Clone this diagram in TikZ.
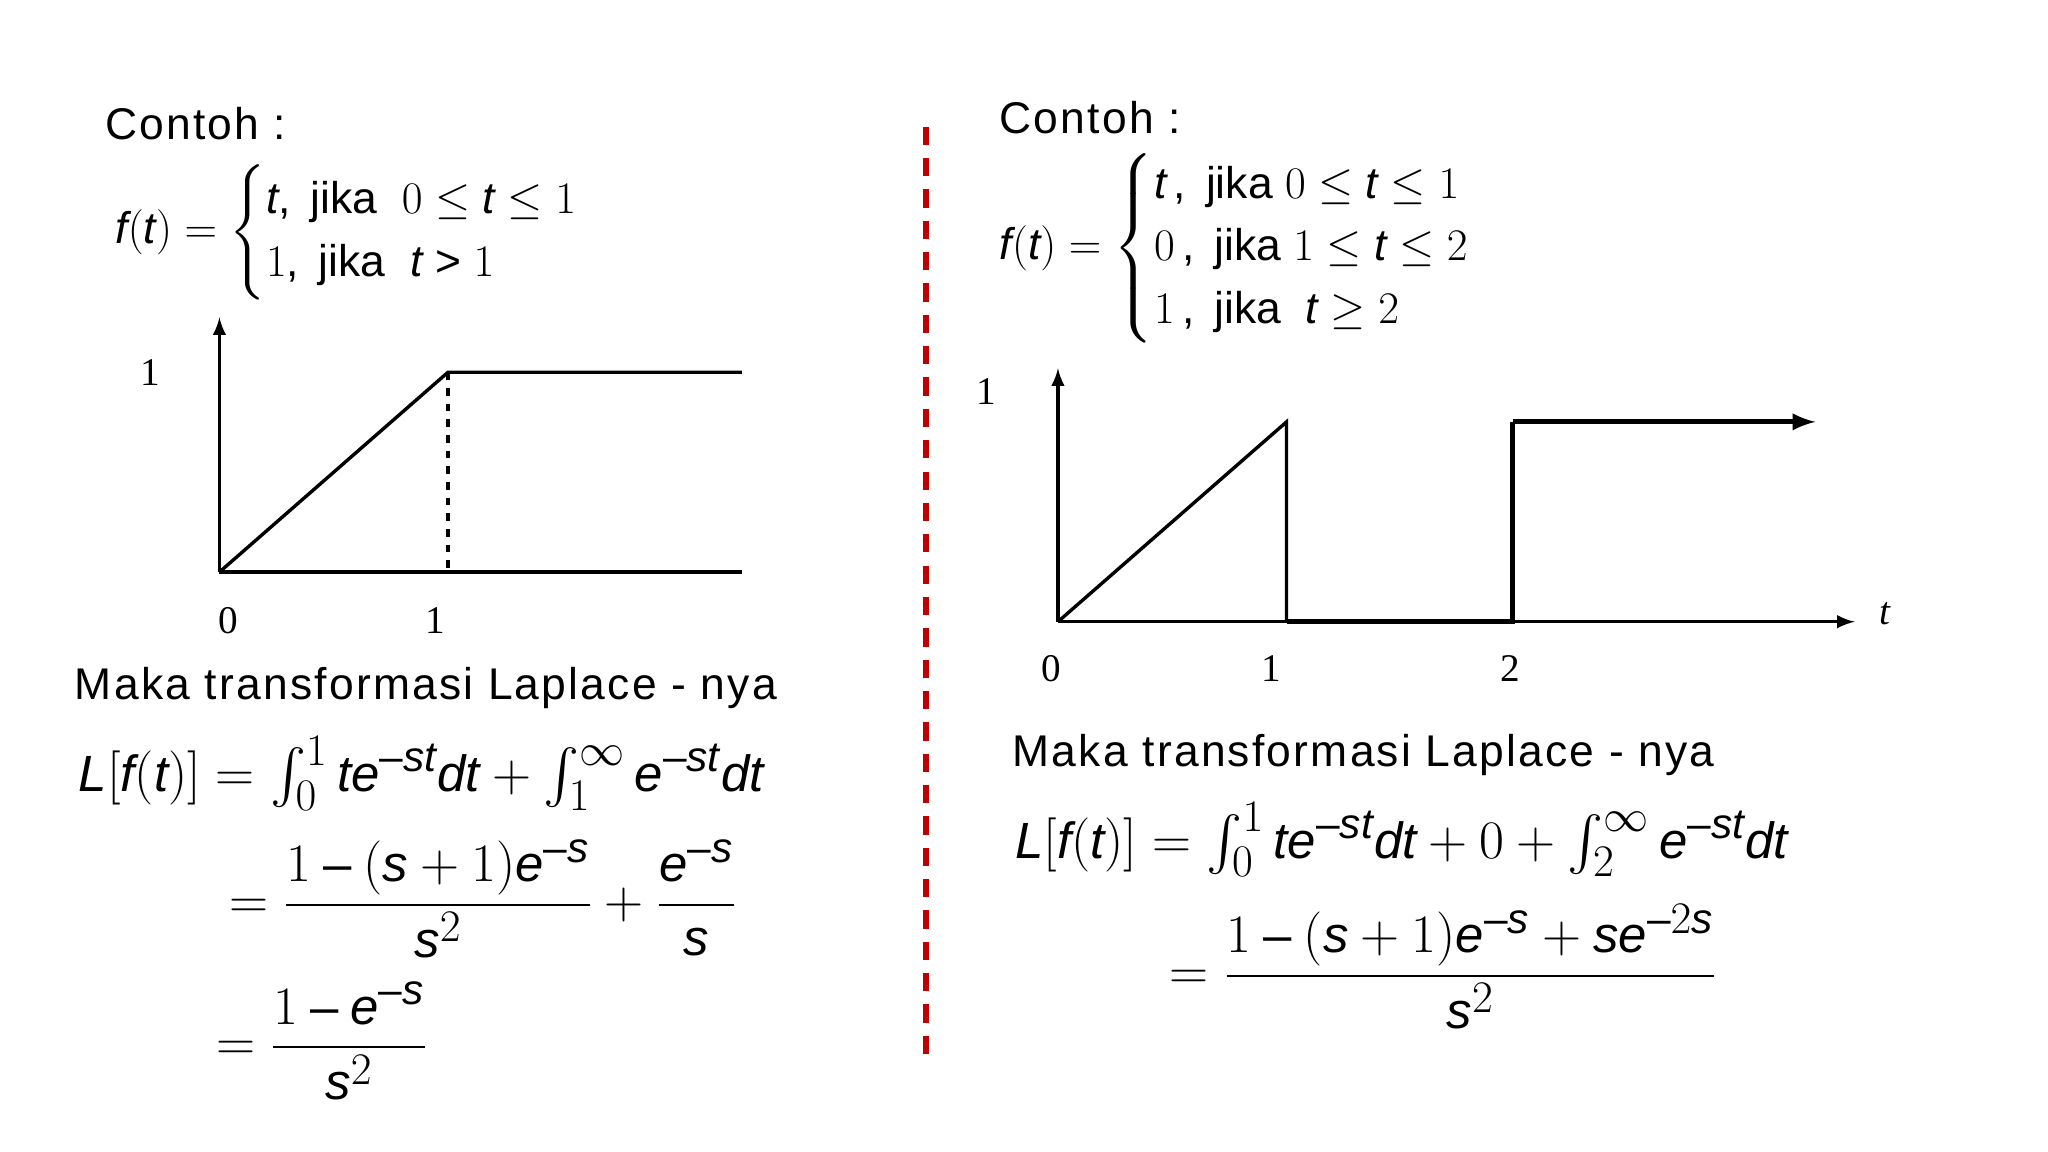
\documentclass[tikz,border=0pt]{standalone}
\usepackage{amsmath}
\usepackage{fontspec}
\setmainfont{Liberation Sans}
\usepackage[italic]{mathastext}
\newfontfamily\spaced[LetterSpace=5]{Liberation Sans}
\newfontfamily\serif{Liberation Serif}
\begin{document}
\begin{tikzpicture}[x=0.5pt,y=-0.5pt,
  txt/.style={anchor=west,inner sep=0pt,font=\fontsize{17}{20}\spaced},
  cs/.style={anchor=west,inner sep=0pt,font=\fontsize{17}{20}\selectfont},
  eq/.style={anchor=west,inner sep=0pt,font=\fontsize{19.5}{24}\selectfont},
  lab/.style={inner sep=0pt,font=\fontsize{15}{16}\serif},
  ax/.style={line width=1.3pt},
  fn/.style={line width=1.3pt},
  thick fn/.style={line width=2pt}]
\useasboundingbox (0,0) rectangle (1568,882);
\fill[white] (0,0) rectangle (1568,882);
% left
\node[txt] (c1) at (80,95) {Contoh :};
\node[cs] (f1) at (88,178) {$f(t)=\begin{cases} t,\ \text{jika}\ \ 0\le t\le 1\\ 1,\ \text{jika}\ \ t>1\end{cases}$};
\coordinate (o1) at (168,438);
\draw[ax,-latex] (o1) -- (168,243);
\draw[ax] (o1) -- (568,438);
\draw[fn] (o1) -- (343,285) -- (568,285);
\draw[ax,dashed] (343,285) -- (343,438);
\node[lab] (l1a) at (115,285) {1};
\node[lab] (l1b) at (175,475) {0};
\node[lab] (l1c) at (333,475) {1};
\node[txt] (m1) at (57,527) {Maka transformasi Laplace - nya};
\node[eq] (e1) at (60,592) {$L[f(t)]=\int_0^1 te^{-st}dt+\int_1^\infty e^{-st}dt$};
\node[eq] (e2) at (175,688) {$=\dfrac{1-(s+1)e^{-s}}{s^2}+\dfrac{e^{-s}}{s}$};
\node[eq] (e3) at (165,797) {$=\dfrac{1-e^{-s}}{s^2}$};
% divider
\draw[red!75!black,line width=2.2pt,dash pattern=on 7pt off 5pt] (709,97) -- (709,812);
% right
\node[txt] (c2) at (765,90) {Contoh :};
\node[cs] (f2) at (765,190) {\renewcommand{\arraystretch}{1.05}$f(t)=\begin{cases} t\,,\ \text{jika}\ 0\le t\le 1\\ 0\,,\ \text{jika}\ 1\le t\le 2\\ 1\,,\ \text{jika}\ \ t\ge 2\end{cases}$};
\coordinate (o2) at (810,476);
\draw[ax,-latex] (o2) -- (810,282);
\draw[ax,-latex] (o2) -- (1420,476);
\draw[fn] (o2) -- (985,323) -- (985,476);
\draw[thick fn] (985,476) -- (1158,476) -- (1158,323);
\draw[thick fn,-latex] (1158,323) -- (1390,323);
\node[lab] (t2) at (1443,470) {\itshape t};
\node[lab] (l2a) at (755,300) {1};
\node[lab] (l2b) at (805,512) {0};
\node[lab] (l2c) at (973,512) {1};
\node[lab] (l2d) at (1156,512) {2};
\node[txt] (m2) at (775,578) {Maka transformasi Laplace - nya};
\node[eq] (e4) at (777,643) {$L[f(t)]=\int_0^1 te^{-st}dt+0+\int_2^\infty e^{-st}dt$};
\node[eq] (e5) at (895,740) {$=\dfrac{1-(s+1)e^{-s}+se^{-2s}}{s^2}$};
\end{tikzpicture}
\end{document}
